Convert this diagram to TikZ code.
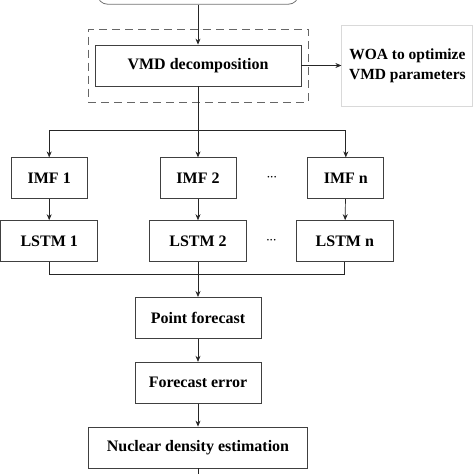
\documentclass[tikz,border=0pt]{standalone}
\usepackage{fontspec}
\setmainfont{Liberation Serif}
\usepackage{tikz}
\usetikzlibrary{arrows.meta, positioning, fit, calc}

\begin{document}
\begin{tikzpicture}[
  x=1pt, y=-1pt,
  >={Stealth[length=6pt, width=5pt]},
  procbox/.style={
    rectangle, draw=black!75, line width=0.8pt, fill=white,
    minimum height=41pt, inner sep=2pt,
    font=\fontsize{16}{19}\selectfont\bfseries, align=center
  },
  optbox/.style={
    rectangle, draw=black!15, line width=1pt,
    minimum width=131pt, minimum height=81pt, inner sep=2pt,
    font=\fontsize{15.5}{20}\selectfont\bfseries, align=center
  },
  inbox/.style={
    rectangle, rounded corners=10pt, draw=black!55, line width=0.8pt,
    minimum width=201pt, minimum height=41pt
  },
  dotsnode/.style={font=\fontsize{10}{10}\selectfont\bfseries, inner sep=0pt},
  flowedge/.style={draw, ->, line width=0.7pt, black!85},
  busedge/.style={draw, line width=0.7pt, black!85},
]
\useasboundingbox (0,0) rectangle (474,474);

% ============================================================
% MAIN VERTICAL FLOW
% ============================================================
\node[procbox, minimum width=206pt] (vmd) at (198,65.5) {VMD decomposition};
\node[inbox, above=40pt of vmd] (input) {};
\node[draw=black!60, line width=0.8pt, dash pattern=on 8pt off 5pt,
      inner xsep=6.5pt, inner ysep=15.5pt, fit=(vmd)] (vmdframe) {};
\node[optbox, right=40pt of vmd] (woa) {WOA to optimize\\VMD parameters};

% --- decomposed modes and their predictors ---
\node[procbox, minimum width=76pt, below=71pt of vmd] (imf2) {IMF 2};
\node[procbox, minimum width=76pt, left=72pt of imf2] (imf1) {IMF 1};
\node[procbox, minimum width=76pt, right=71pt of imf2] (imfn) {IMF n};
\node[procbox, minimum width=97pt, below=21pt of imf2] (lstm2) {LSTM 2};
\node[procbox, minimum width=97pt, left=51pt of lstm2] (lstm1) {LSTM 1};
\node[procbox, minimum width=97pt, right=49pt of lstm2] (lstmn) {LSTM n};
\node[dotsnode] (dotsimf) at ($(imf2.east)!0.5!(imfn.west)$) {···};
\node[dotsnode] (dotslstm) at ($(lstm2.east)!0.5!(lstmn.west)$) {···};

% --- probabilistic part ---
\node[procbox, minimum width=126pt, below=35pt of lstm2] (point) {Point forecast};
\node[procbox, minimum width=126pt, below=23pt of point] (ferr) {Forecast error};
\node[procbox, minimum width=219pt, below=23pt of ferr] (kde) {Nuclear density estimation};
\coordinate[below=20pt of kde] (kdeout);

% ============================================================
% EDGES
% ============================================================
\draw[flowedge] (input) -- (vmd);
\draw[flowedge] (vmd.east) -- (woa.west);

% --- split bus ---
\coordinate[below=44pt of vmd] (split);
\draw[busedge] (vmd.south) -- (split);
\draw[busedge] (imf1.north |- split) -- (imfn.north |- split);
\foreach \m in {imf1, imf2, imfn}
  \draw[flowedge] (\m.north |- split) -- (\m.north);
\foreach \m/\l in {imf1/lstm1, imf2/lstm2, imfn/lstmn}
  \draw[flowedge] (\m) -- (\l);

% --- merge bus ---
\coordinate[below=12pt of lstm2] (merge);
\draw[busedge] (lstm1.south) -- (lstm1.south |- merge) -- (lstmn.south |- merge) -- (lstmn.south);
\draw[flowedge] (lstm2.south) -- (point.north);
\draw[flowedge] (point) -- (ferr);
\draw[flowedge] (ferr) -- (kde);
\draw[busedge] (kde.south) -- (kdeout);

\end{tikzpicture}
\end{document}
